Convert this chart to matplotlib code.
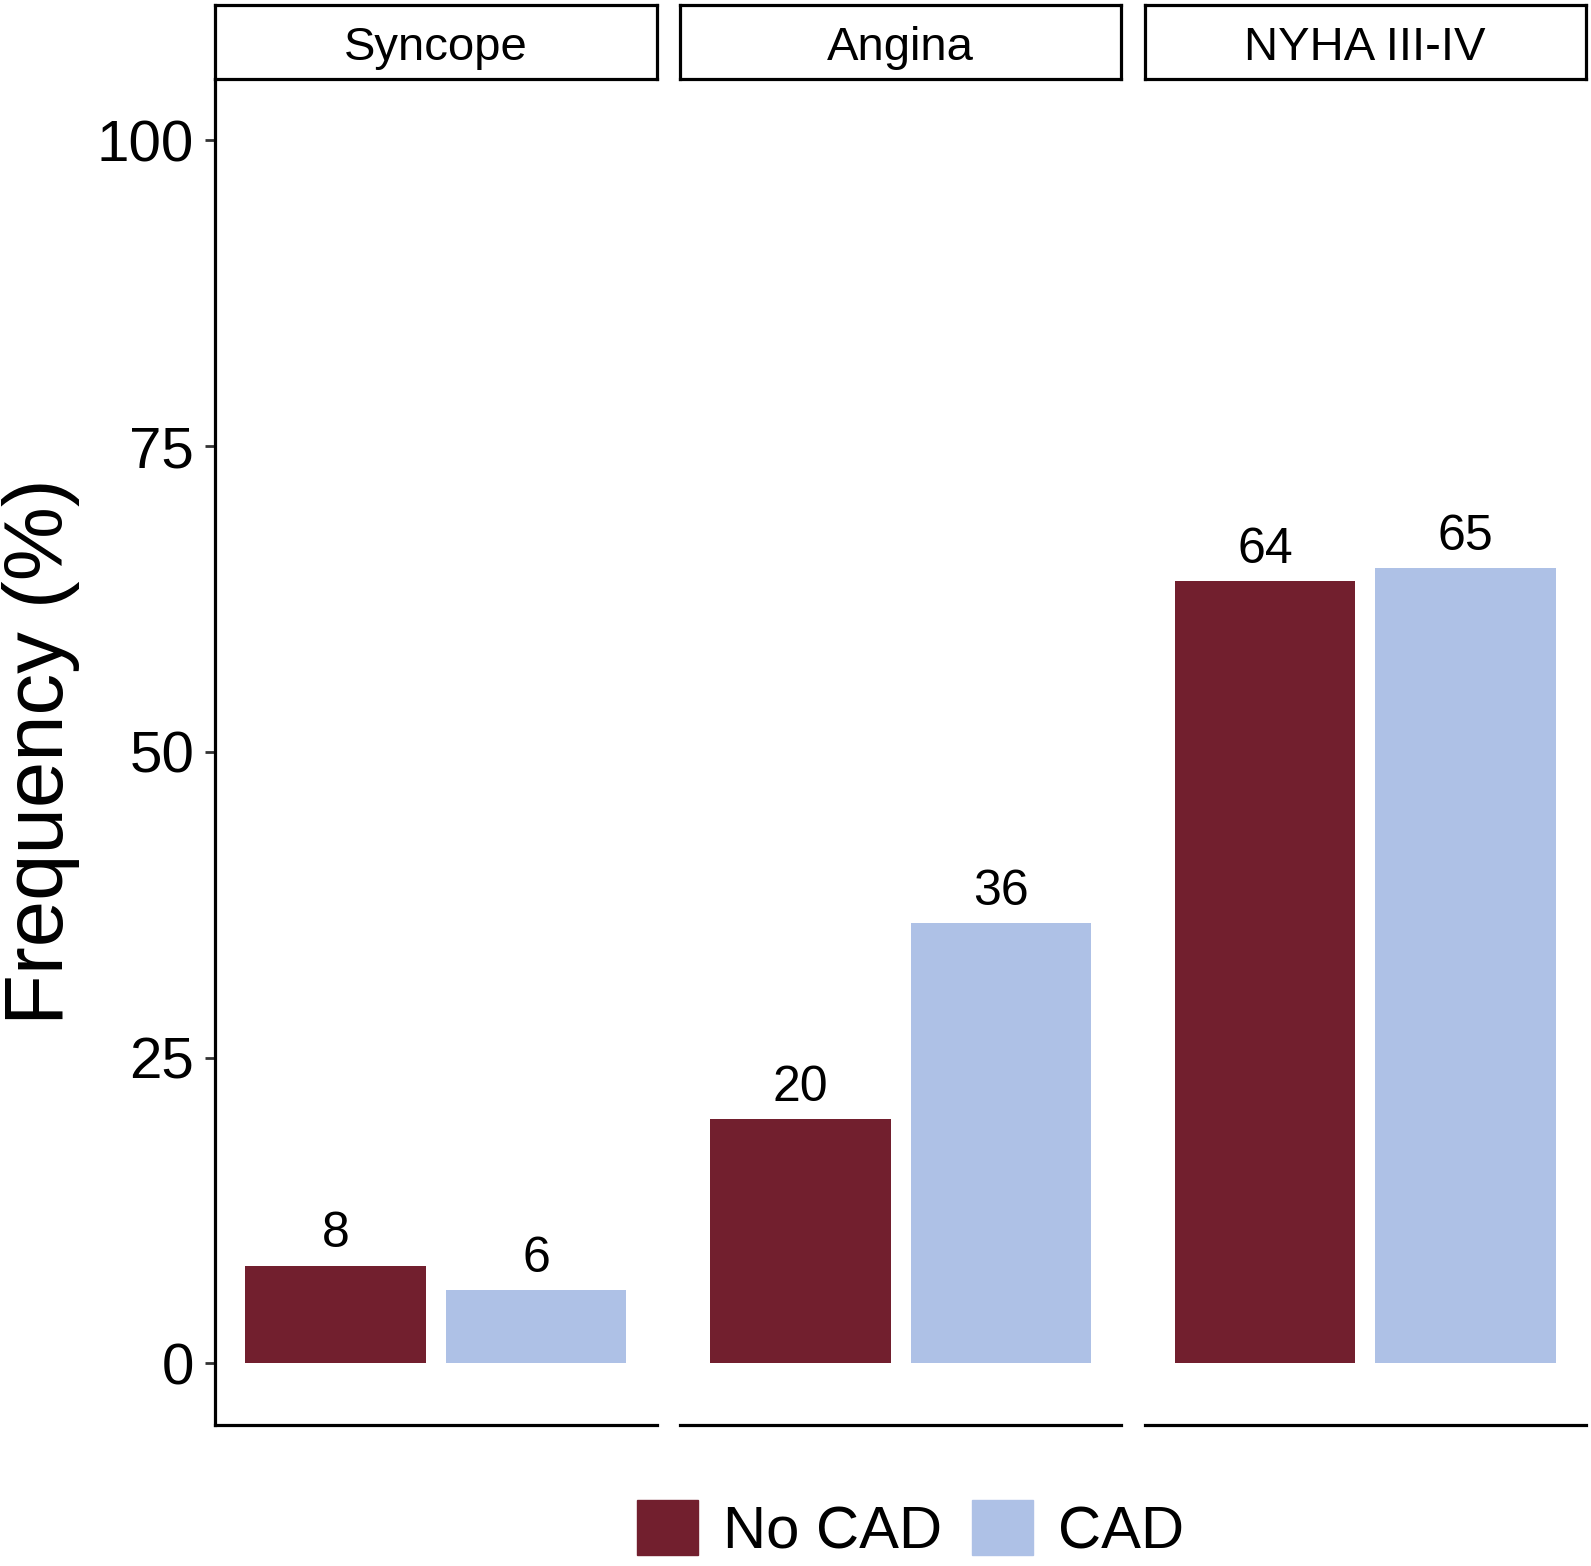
import matplotlib.pyplot as plt
import numpy as np

plt.rcParams['font.family'] = ['Liberation Sans', 'DejaVu Sans']

# data
panels = ["Syncope", "Angina", "NYHA III-IV"]
groups = ["No CAD", "CAD"]
no_cad = [8, 20, 64]
cad = [6, 36, 65]
colors = ["#721F2E", "#AEC1E6"]

W, H = 1591, 1566
fig = plt.figure(figsize=(W / 100, H / 100), dpi=100)

lefts = [215.0, 679.8, 1144.5]
pw = 441.5
top_px, bot_px = 79.2, 1424.5
strip_top = 5.1
lw = 2.3

for i, name in enumerate(panels):
    l = lefts[i] / W
    b = 1 - bot_px / H
    h = (bot_px - top_px) / H
    ax = fig.add_axes([l, b, pw / W, h])
    vals = [no_cad[i], cad[i]]
    x = np.arange(len(groups))
    ax.bar(x, vals, width=0.9, color=colors)
    for xi, v in zip(x, vals):
        ax.annotate(str(v), (xi, v), xytext=(0, 13), textcoords="offset points",
                    ha="center", va="baseline", fontsize=36)
    ax.set_xlim(-0.6, 1.6)
    ax.set_ylim(-5, 105)
    ax.set_xticks([])
    for s in ["top", "right"]:
        ax.spines[s].set_visible(False)
    ax.spines["bottom"].set_linewidth(lw)
    if i == 0:
        ax.spines["left"].set_linewidth(lw)
        ax.set_yticks([0, 25, 50, 75, 100])
        ax.tick_params(axis="y", length=7, width=2, color="#333333",
                       labelsize=42, pad=8)
    else:
        ax.spines["left"].set_visible(False)
        ax.set_yticks([])

    # strip
    sax = fig.add_axes([l, 1 - top_px / H, pw / W, (top_px - strip_top) / H])
    sax.set_xticks([])
    sax.set_yticks([])
    for s in sax.spines.values():
        s.set_linewidth(lw)
    sax.text(0.5, 0.42, name, ha="center", va="center", fontsize=34,
             transform=sax.transAxes)

fig.text(40.6 / W, 1 - 752 / H, "Frequency (%)", rotation=90, ha="center",
         va="center", fontsize=60)

handles = [plt.Rectangle((0, 0), 1, 1, color=c) for c in colors]
fig.legend(handles, groups, loc="center", bbox_to_anchor=(911 / W, 1 - 1530 / H),
           ncol=2, frameon=False, fontsize=43, handlelength=1.02,
           handleheight=1.05, handletextpad=0.42, columnspacing=0.5)

fig.savefig("out.png", dpi=100)
